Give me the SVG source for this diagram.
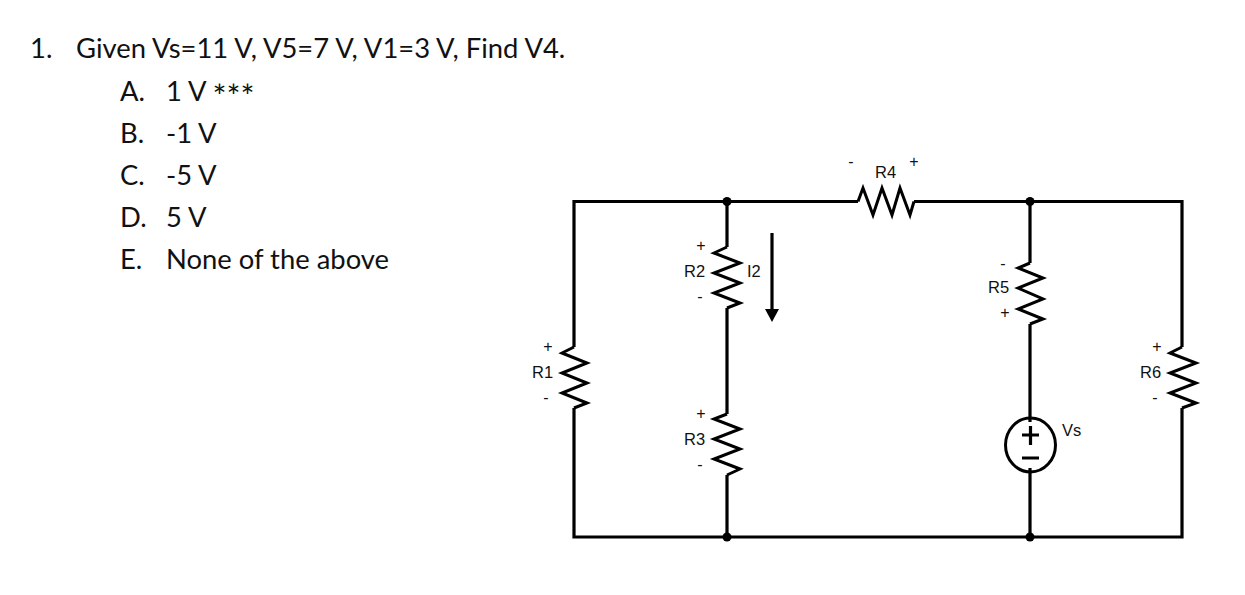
<svg xmlns="http://www.w3.org/2000/svg" width="1245" height="595" viewBox="0 0 1245 595">
<style>
.q{font-family:"Lato","Open Sans",sans-serif;font-size:27.4px;fill:#111}
.l{font-family:"Liberation Sans",Arial,sans-serif;font-size:16.500px;fill:#111}
.s{font-family:"Liberation Sans",Arial,sans-serif;font-size:16px;fill:#111;text-anchor:middle}
.w{fill:none;stroke:#000;stroke-width:3.2;stroke-linejoin:miter}
.z{fill:none;stroke:#000;stroke-width:3}
.d{fill:#000}
</style>
<rect width="1245" height="595" fill="#fff"/>
<g id="question">
<text class="q" x="30" y="58">1.</text>
<text class="q" x="76" y="58">Given Vs=11 V, V5=7 V, V1=3 V, Find V4.</text>
<text class="q" x="120" y="101">A.</text><text class="q" x="166" y="101">1 V <tspan font-size="33" dy="7">***</tspan></text>
<text class="q" x="120" y="143">B.</text><text class="q" x="166" y="143">-1 V</text>
<text class="q" x="120" y="185">C.</text><text class="q" x="166" y="185">-5 V</text>
<text class="q" x="120" y="227">D.</text><text class="q" x="166" y="227">5 V</text>
<text class="q" x="120" y="269">E.</text><text class="q" x="166" y="269">None of the above</text>
</g>
<g id="connectors">
<path class="w" d="M574 347V201.500H858M914 201.500H1182V347"/>
<path class="w" d="M574 408V537H1182V408"/>
<path class="w" d="M727 201.500V247M727 308V414M727 475V537"/>
<path class="w" d="M1030 201.500V263M1030 324V422M1030 468V537"/>
<circle class="d" cx="727" cy="201.500" r="4.500"/>
<circle class="d" cx="1030" cy="201.500" r="4.500"/>
<circle class="d" cx="727" cy="537" r="4.500"/>
<circle class="d" cx="1030" cy="537" r="4.500"/>
</g>
<g id="R1">
<path class="z" d="M574 347L562 353L587 363L562 373L587 383L562 393L587 403L574 408"/>
<text class="s" x="548" y="352">+</text><text class="l" x="532" y="378">R1</text><text class="s" x="546" y="403">-</text>
</g>
<g id="R2">
<path class="z" d="M727 247L714 253L740 263L714 273L740 283L714 293L740 303L727 308"/>
<text class="s" x="701" y="251">+</text><text class="l" x="684" y="277">R2</text><text class="s" x="700" y="302">-</text>
</g>
<g id="R3">
<path class="z" d="M727 414L714 419L740 429L714 439L740 449L714 459L740 469L727 475"/>
<text class="s" x="701" y="419">+</text><text class="l" x="684" y="445">R3</text><text class="s" x="700" y="470">-</text>
</g>
<g id="R4">
<path class="z" d="M858 201.500L863 188L873 215L882 188L892 215L900 188L910 215L914 201.500"/>
<text class="s" x="851" y="167">-</text><text class="l" x="875" y="178">R4</text><text class="s" x="914" y="167">+</text>
</g>
<g id="R5">
<path class="z" d="M1030 263L1018 268L1043 278L1018 288L1043 299L1018 309L1043 319L1030 324"/>
<text class="s" x="1003" y="269">-</text><text class="l" x="988" y="293">R5</text><text class="s" x="1005" y="318">+</text>
</g>
<g id="R6">
<path class="z" d="M1182 347L1170 353L1196 363L1170 373L1196 383L1170 393L1196 403L1182 408"/>
<text class="s" x="1157" y="352">+</text><text class="l" x="1140" y="378">R6</text><text class="s" x="1155" y="403">-</text>
</g>
<g id="Vs">
<ellipse cx="1030.500" cy="445" rx="25" ry="27" fill="none" stroke="#000" stroke-width="3"/>
<path d="M1030.500 426V445M1022 435H1039M1022 458H1039" fill="none" stroke="#000" stroke-width="3.200"/>
<text class="l" x="1062" y="436">Vs</text>
</g>
<g id="I2">
<path d="M772 233V311" fill="none" stroke="#000" stroke-width="3.200"/>
<polygon class="d" points="765,309 779,309 772,322"/>
<text class="l" x="747" y="277">I2</text>
</g>
</svg>
